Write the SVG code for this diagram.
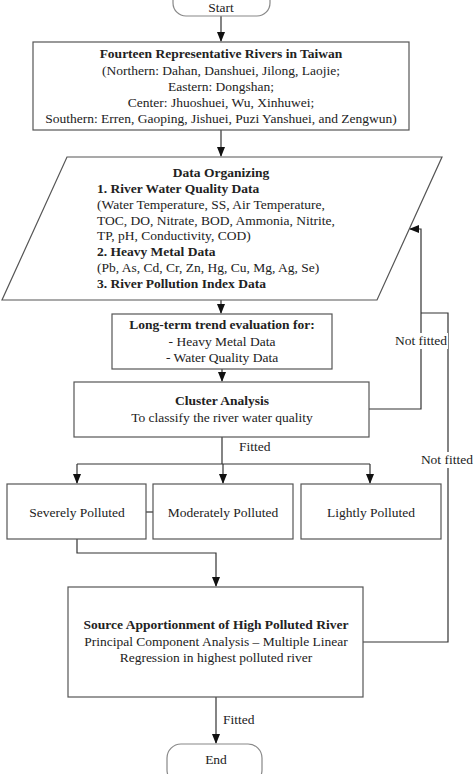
<svg xmlns="http://www.w3.org/2000/svg" width="474" height="774" viewBox="0 0 474 774">
<style>
.box{fill:#fff;stroke:#555;stroke-width:1.2}
.term{fill:#fff;stroke:#888;stroke-width:1.2}
.ln{fill:none;stroke:#333;stroke-width:1.2}
text{font-family:"Liberation Serif","Times New Roman",serif;font-size:13.5px;fill:#222}
.b{font-weight:bold}
.c{text-anchor:middle}
</style>
<defs>
<marker id="ah" markerWidth="10" markerHeight="10" refX="9" refY="5" orient="auto" markerUnits="userSpaceOnUse">
<path d="M0,1 L10,5 L0,9 Z" fill="#111"/>
</marker>
</defs>
<rect width="474" height="774" fill="#fff"/>
<g id="connectors">
<path class="ln" d="M221,16 V41" marker-end="url(#ah)"/>
<path class="ln" d="M221,130 V156" marker-end="url(#ah)"/>
<path class="ln" d="M221,300 V313" marker-end="url(#ah)"/>
<path class="ln" d="M222,369 V381" marker-end="url(#ah)"/>
<path class="ln" d="M222,437 V464"/>
<path class="ln" d="M77,464 H370"/>
<path class="ln" d="M77,464 V483" marker-end="url(#ah)"/>
<path class="ln" d="M223,464 V483" marker-end="url(#ah)"/>
<path class="ln" d="M370,464 V483" marker-end="url(#ah)"/>
<path class="ln" d="M146,512 H153"/>
<path class="ln" d="M77,539 V553 H216 V586" marker-end="url(#ah)"/>
<path class="ln" d="M216,697 V743" marker-end="url(#ah)"/>
<path class="ln" d="M369,409 H421 V229 H410" marker-end="url(#ah)"/>
<path class="ln" d="M363,642 H448 V313 H421"/>
<rect x="394" y="333" width="54" height="16" fill="#fff"/>
<text x="421" y="345" class="c">Not fitted</text>
<rect x="420" y="452" width="54" height="16" fill="#fff"/>
<text x="473" y="464" text-anchor="end">Not fitted</text>
<text x="239" y="451">Fitted</text>
<text x="223" y="724">Fitted</text>
</g>
<g id="start">
<rect class="term" x="173" y="-20" width="97" height="36" rx="13"/>
<text x="221" y="12" class="c">Start</text>
</g>
<g id="rivers">
<rect class="box" x="33" y="42" width="376" height="88"/>
<text x="221" y="58" class="c b">Fourteen Representative Rivers in Taiwan</text>
<text x="221" y="75" class="c">(Northern: Dahan, Danshuei, Jilong, Laojie;</text>
<text x="221" y="91" class="c">Eastern: Dongshan;</text>
<text x="221" y="107" class="c">Center: Jhuoshuei, Wu, Xinhuwei;</text>
<text x="221" y="123" class="c">Southern: Erren, Gaoping, Jishuei, Puzi Yanshuei, and Zengwun)</text>
</g>
<g id="data">
<polygon class="box" points="67,157 442,157 377,300 2,300"/>
<text x="221" y="177" class="c b">Data Organizing</text>
<text x="97" y="193" class="b">1. River Water Quality Data</text>
<text x="97" y="209">(Water Temperature, SS, Air Temperature,</text>
<text x="97" y="225">TOC, DO, Nitrate, BOD, Ammonia, Nitrite,</text>
<text x="97" y="240">TP, pH, Conductivity,  COD)</text>
<text x="97" y="256" class="b">2. Heavy Metal Data</text>
<text x="97" y="272">(Pb, As, Cd, Cr, Zn, Hg, Cu, Mg, Ag, Se)</text>
<text x="97" y="288" class="b">3. River Pollution Index Data</text>
</g>
<g id="trend">
<rect class="box" x="112" y="314" width="220" height="55"/>
<text x="222" y="329" class="c b">Long-term trend evaluation for:</text>
<text x="222" y="346" class="c">- Heavy Metal Data</text>
<text x="222" y="362" class="c">- Water Quality Data</text>
</g>
<g id="cluster">
<rect class="box" x="74" y="382" width="295" height="55"/>
<text x="222" y="405" class="c b">Cluster Analysis</text>
<text x="222" y="422" class="c">To classify the river water quality</text>
</g>
<g id="severe">
<rect class="box" x="7" y="484" width="139" height="55"/>
<text x="77" y="517" class="c">Severely Polluted</text>
</g>
<g id="moderate">
<rect class="box" x="153" y="484" width="140" height="55"/>
<text x="223" y="517" class="c">Moderately Polluted</text>
</g>
<g id="light">
<rect class="box" x="301" y="484" width="140" height="55"/>
<text x="371" y="517" class="c">Lightly Polluted</text>
</g>
<g id="source">
<rect class="box" x="68" y="587" width="295" height="110"/>
<text x="216" y="629" class="c b">Source Apportionment of High Polluted River</text>
<text x="216" y="646" class="c">Principal Component Analysis – Multiple Linear</text>
<text x="216" y="662" class="c">Regression in highest polluted river</text>
</g>
<g id="end">
<rect class="term" x="167" y="744" width="95" height="40" rx="14"/>
<text x="216" y="764" class="c">End</text>
</g>
</svg>
